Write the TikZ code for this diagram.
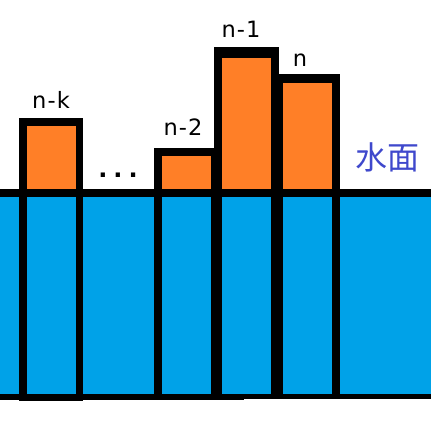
\documentclass[tikz,border=0pt]{standalone}
\usepackage{fontspec}
\setmainfont{DejaVu Sans}
\newfontfamily\cjkfont{Noto Sans CJK SC}
\newfontfamily\lblfont[LetterSpace=5]{DejaVu Sans}
\definecolor{water}{HTML}{00A2E8}
\definecolor{brick}{HTML}{FF7F27}
\definecolor{indigo}{HTML}{3F48CC}
\tikzset{
  lbl/.style={anchor=base, inner sep=0pt, font=\lblfont\fontsize{22.5}{24}\selectfont, text=black},
  wtxt/.style={anchor=base, inner sep=0pt, font=\cjkfont\fontsize{32}{34}\selectfont, text=indigo}
}
\begin{document}
\begin{tikzpicture}[x=1pt,y=-1pt]
\useasboundingbox (0,0) rectangle (431,423);
% water
\fill[water] (0,197) rectangle (431,394);
\fill[black] (0,189) rectangle (431,197);
\fill[black] (0,394) rectangle (431,398.5);
\fill[black] (0,398) rectangle (244,400);
% box outlines (black)
\fill[black] (19,118) rectangle (83,401);
\fill[black] (154,148) rectangle (219,398.5);
\fill[black] (214,47) rectangle (279,398.5);
\fill[black] (271,74) rectangle (340,398.5);
% orange parts above water
\fill[brick] (27,126) rectangle (76,189);
\fill[brick] (162,156) rectangle (211,189);
\fill[brick] (222,58) rectangle (271,189);
\fill[brick] (283,83) rectangle (332,189);
% water inside boxes
\fill[water] (27,197) rectangle (76,394);
\fill[water] (162,197) rectangle (211,394);
\fill[water] (222,197) rectangle (271,394);
\fill[water] (283,197) rectangle (332,394);
% labels
\node[lbl] (lk) at (51,108) {n-k};
\node[lbl] (l2) at (183,135) {n-2};
\node[lbl] (l1) at (241,37) {n-1};
\node[lbl] (ln) at (300,66) {n};
\node[lbl, font=\bfseries\fontsize{24}{26}\selectfont] (dots) at (118,177.5) {.\hspace{6pt}.\hspace{6pt}.};
\node[wtxt] (water) at (387,169.5) {水面};
\end{tikzpicture}
\end{document}
